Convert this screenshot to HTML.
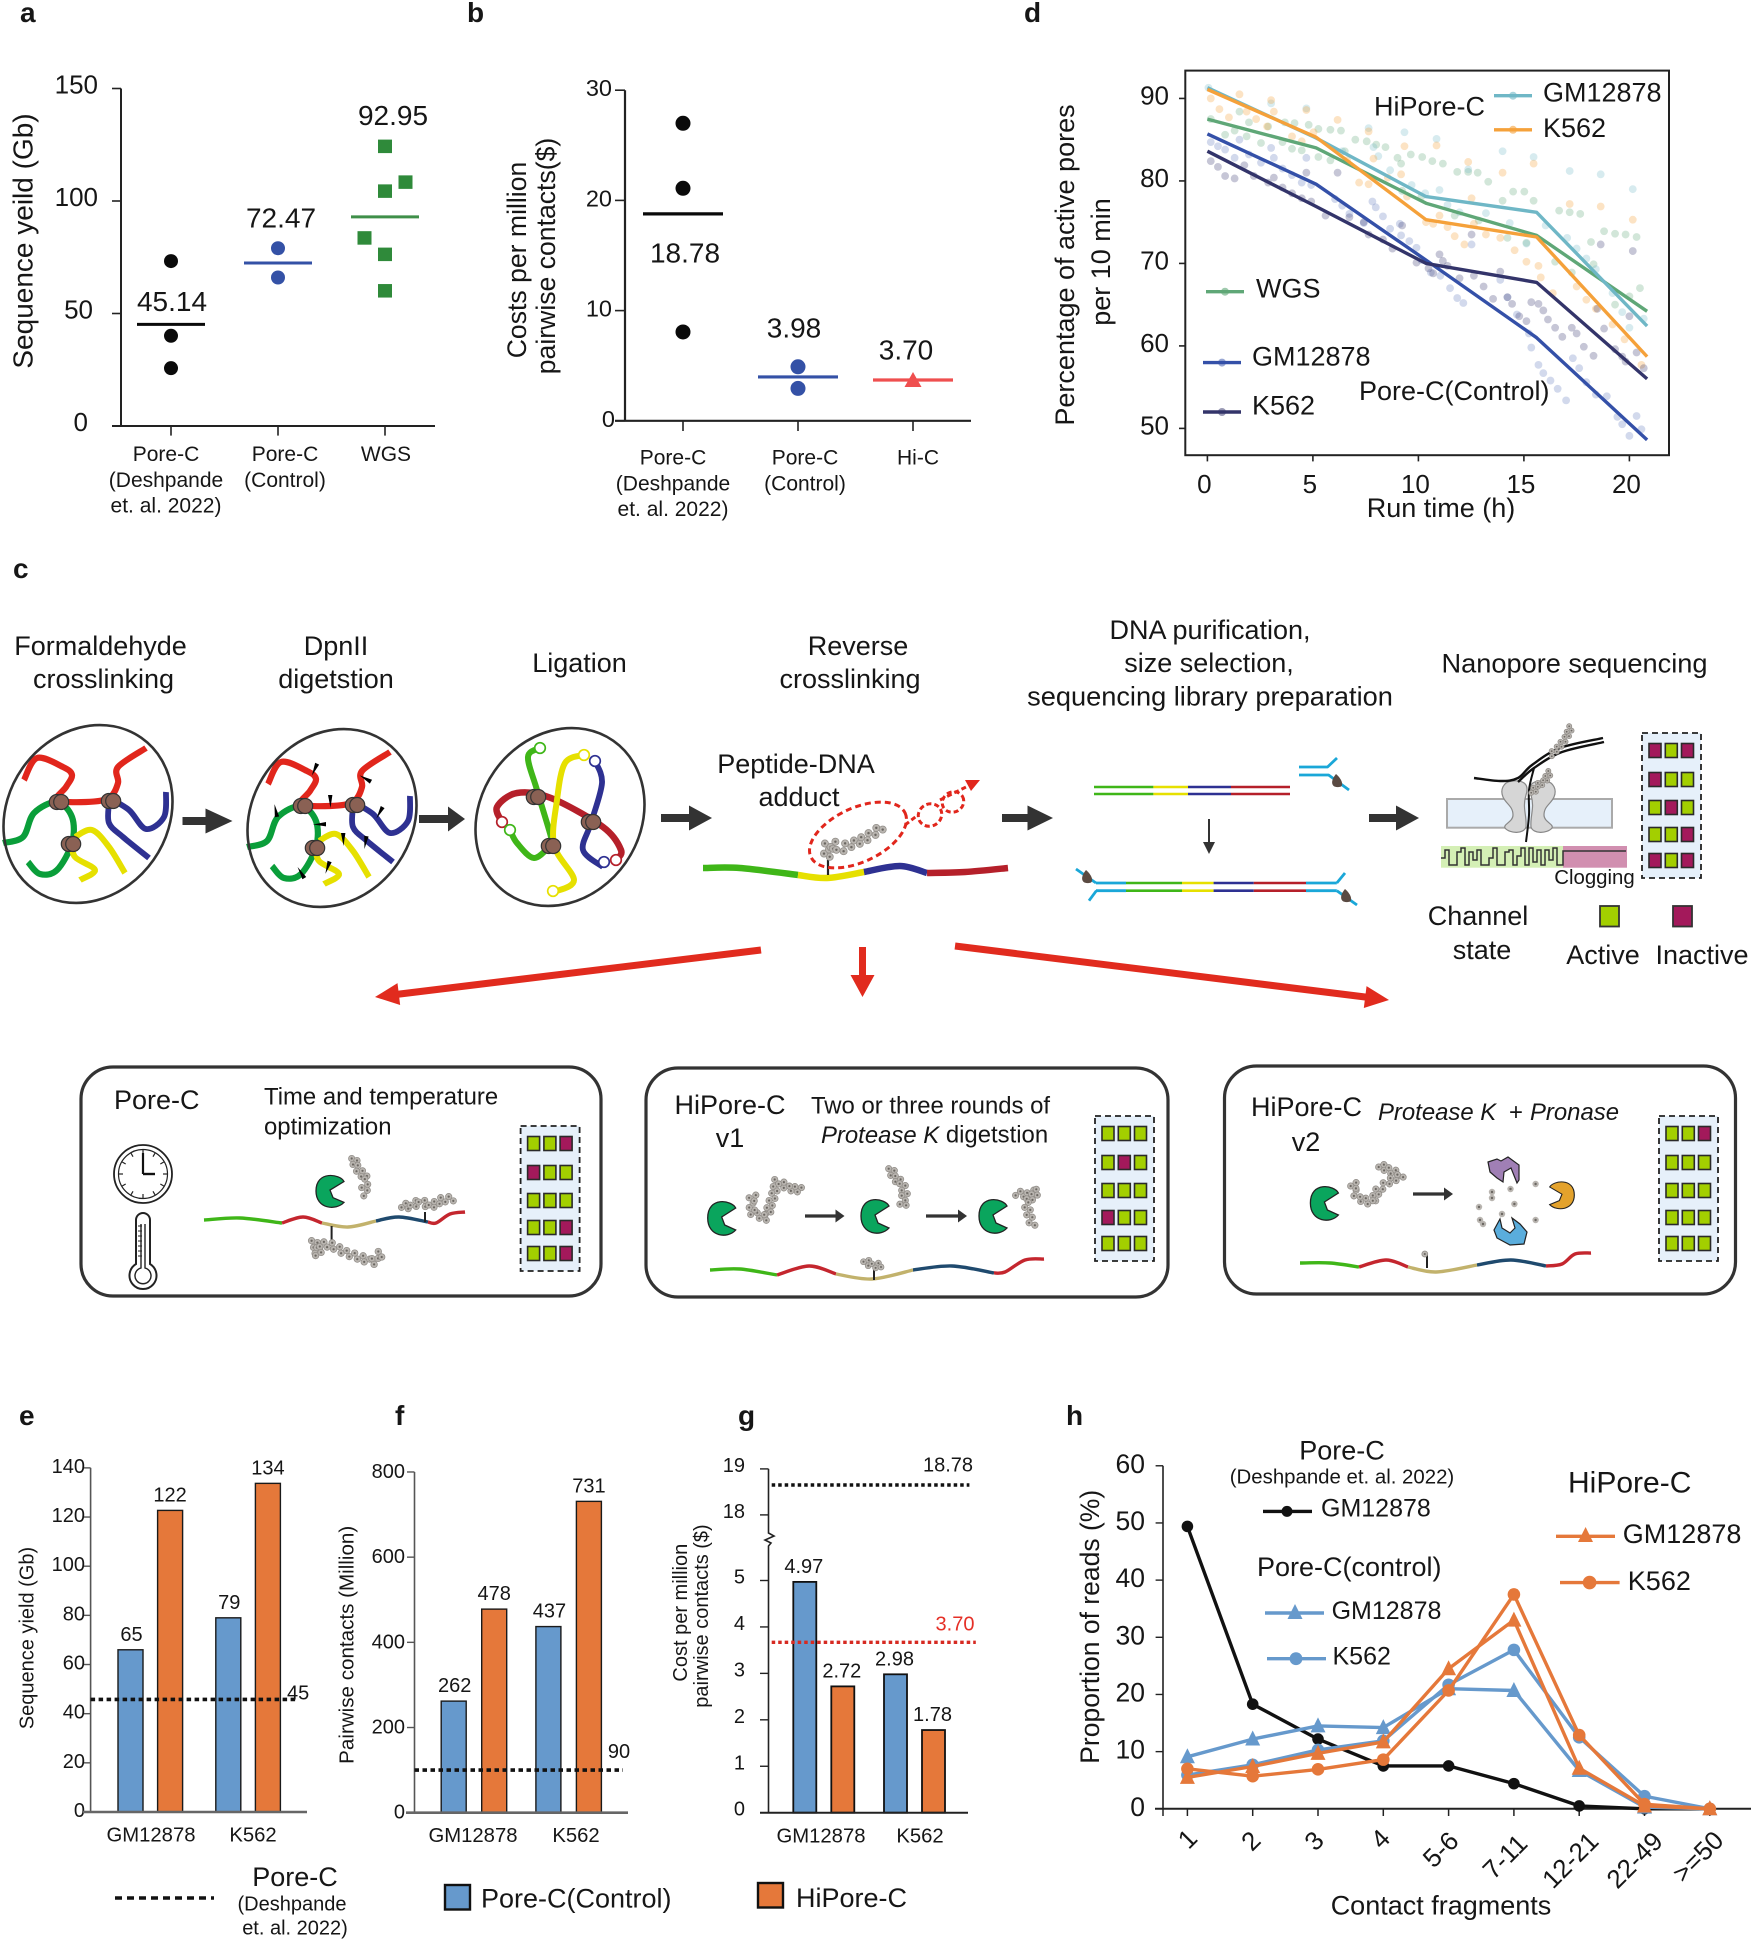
<!DOCTYPE html>
<html lang="en">
<head>
<meta charset="utf-8">
<title>HiPore-C figure</title>
<style>
html,body{margin:0;padding:0;background:#fff;}
#figure{display:block;width:1751px;height:1940px;background:#fff;}
text{font-family:"Liberation Sans",Arial,sans-serif;fill:#161616;dominant-baseline:central;}
.m{text-anchor:middle;}
.e{text-anchor:end;}
.letter{font-weight:700;font-size:28px;dominant-baseline:alphabetic;}
.t27{font-size:27px;}
.t26{font-size:26.6px;}
.t24{font-size:23.9px;}
.t21{font-size:21px;}
.t20{font-size:20px;}
.t19{font-size:20px;}
</style>
</head>
<body>
<svg id="figure" xmlns="http://www.w3.org/2000/svg" width="1751" height="1940" viewBox="0 0 1751 1940">
  <rect width="1751" height="1940" fill="#fff"/>

  <g>
    <text class="letter" x="20" y="22">a</text>
    <text class="letter" x="467" y="22">b</text>
    <text class="letter" x="1024" y="22">d</text>
    <text class="letter" x="13" y="578">c</text>
    <text class="letter" x="19" y="1425">e</text>
    <text class="letter" x="395" y="1425">f</text>
    <text class="letter" x="738" y="1425">g</text>
    <text class="letter" x="1066" y="1425">h</text>
  </g>

  <g id="panel-a">
    <text class="m" style="font-size:28px" transform="translate(23,241) rotate(-90)">Sequence yeild (Gb)</text>
  </g>
  <g id="panel-b">
    <text class="m t26" transform="translate(517,260) rotate(-90)">Costs per million</text>
    <text class="m t26" transform="translate(546,256) rotate(-90)">pairwise contacts($)</text>
  </g>
  <g id="panel-d">
    <text class="m t27" transform="translate(1065,265) rotate(-90)">Percentage of active pores</text>
    <text class="m t27" transform="translate(1101,262) rotate(-90)">per 10 min</text>
    <text class="m t27" x="1441" y="508">Run time (h)</text>
  </g>
  <g>
    <text class="t27" x="1374" y="106.7">HiPore-C</text>
    <line x1="1494" x2="1532" y1="95.7" y2="95.7" stroke="#6fb7c6" stroke-width="3.4"/>
    <circle cx="1513" cy="95.7" r="4" fill="#6fb7c6" opacity=".6"/>
    <text class="t27" x="1543" y="92.3">GM12878</text>
    <line x1="1494" x2="1532" y1="129.8" y2="129.8" stroke="#f5a13a" stroke-width="3.4"/>
    <circle cx="1513" cy="129.8" r="4" fill="#f5a13a" opacity=".6"/>
    <text class="t27" x="1543" y="128">K562</text>
    <line x1="1206" x2="1244" y1="291.7" y2="291.7" stroke="#5fa777" stroke-width="3.4"/>
    <circle cx="1225" cy="291.7" r="4" fill="#5fa777" opacity=".6"/>
    <text class="t27" x="1256" y="288.6">WGS</text>
    <line x1="1203" x2="1241" y1="362.6" y2="362.6" stroke="#3450a8" stroke-width="3.4"/>
    <circle cx="1222" cy="362.6" r="4" fill="#3450a8" opacity=".5"/>
    <text class="t27" x="1252" y="356.4">GM12878</text>
    <line x1="1203" x2="1241" y1="412" y2="412" stroke="#33346a" stroke-width="3.4"/>
    <circle cx="1222" cy="412" r="4" fill="#33346a" opacity=".5"/>
    <text class="t27" x="1252" y="405.6">K562</text>
    <text class="t27" x="1359" y="390.8">Pore-C(Control)</text>
  </g>

  <g id="panel-c"></g>
  <g>
    <text class="m t27" x="100.5" y="646">Formaldehyde</text>
    <text class="m t27" x="103.5" y="679">crosslinking</text>
    <text class="m t27" x="336" y="646">DpnII</text>
    <text class="m t27" x="336" y="679">digetstion</text>
    <text class="m t27" x="579.5" y="663">Ligation</text>
    <text class="m t27" x="858" y="646">Reverse</text>
    <text class="m t27" x="850" y="679">crosslinking</text>
    <text class="m t27" x="796" y="764">Peptide-DNA</text>
    <text class="m t27" x="799" y="797">adduct</text>
    <text class="m t27" x="1210" y="630">DNA purification,</text>
    <text class="m t27" x="1209" y="663">size selection,</text>
    <text class="m" style="font-size:27.2px" x="1210" y="696">sequencing library preparation</text>
    <text class="m" style="font-size:27.2px" x="1574.5" y="663">Nanopore sequencing</text>
    <text class="m" style="font-size:20.4px" x="1594.5" y="878">Clogging</text>
    <text class="m t27" x="1478" y="916">Channel</text>
    <text class="m t27" x="1482" y="950">state</text>
    <text class="m t27" x="1603" y="955">Active</text>
    <text class="m t27" x="1702" y="955">Inactive</text>
    <text class="t27" x="114" y="1100">Pore-C</text>
    <text class="t24" x="264" y="1097">Time and temperature</text>
    <text class="t24" x="264" y="1127">optimization</text>
    <text class="m t27" x="730" y="1105">HiPore-C</text>
    <text class="m t27" x="730" y="1138">v1</text>
    <text class="t24" x="811" y="1106">Two or three rounds of</text>
    <text class="t24" x="821" y="1135"><tspan font-style="italic">Protease K</tspan> digetstion</text>
    <text class="t27" x="1251" y="1107">HiPore-C</text>
    <text class="m t27" x="1306" y="1142">v2</text>
    <text class="t24" x="1378" y="1112"><tspan font-style="italic">Protease K</tspan><tspan x="1509">+</tspan><tspan x="1530" font-style="italic">Pronase</tspan></text>
  </g>

  <g id="panel-e">
    <text class="m t19" transform="translate(27.5,1638) rotate(-90)">Sequence yield (Gb)</text>
  </g>
  <g id="panel-f">
    <text class="m" style="font-size:20.6px" transform="translate(347,1644.8) rotate(-90)">Pairwise contacts (Million)</text>
  </g>
  <g id="panel-g">
    <text class="m t19" transform="translate(681,1612.7) rotate(-90)">Cost per million</text>
    <text class="m t19" transform="translate(702,1616) rotate(-90)">pairwise contacts ($)</text>
  </g>
  <g>
    <line x1="115" x2="214" y1="1898" y2="1898" stroke="#111" stroke-width="3.5" stroke-dasharray="7 5"/>
    <text class="m t27" x="295" y="1877">Pore-C</text>
    <text class="m t20" x="292" y="1904.6">(Deshpande</text>
    <text class="m t20" x="295" y="1928.4">et. al. 2022)</text>
    <rect x="445" y="1885" width="25" height="24.5" fill="#6699cc" stroke="#111" stroke-width="2.4"/>
    <text class="t27" x="481" y="1898.6">Pore-C(Control)</text>
    <rect x="758" y="1883" width="25" height="24.5" fill="#e5783a" stroke="#111" stroke-width="2.4"/>
    <text class="t27" x="796" y="1898">HiPore-C</text>
  </g>

  <g id="panel-h">
    <text class="m" style="font-size:26.5px" transform="translate(1090,1626.8) rotate(-90)">Proportion of reads (%)</text>
    <text class="m t27" x="1441" y="1905.6">Contact fragments</text>
  </g>
  <g>
    <text class="m t27" x="1342" y="1450.3">Pore-C</text>
    <text class="m" style="font-size:20.4px" x="1342" y="1477.7">(Deshpande et. al. 2022)</text>
    <line x1="1263" x2="1312" y1="1511.4" y2="1511.4" stroke="#111" stroke-width="3.4"/>
    <circle cx="1287" cy="1511.4" r="5.5" fill="#111"/>
    <text x="1321" y="1508.6" style="font-size:25px">GM12878</text>
    <text class="t27" x="1257" y="1567">Pore-C(control)</text>
    <line x1="1265" x2="1324" y1="1613" y2="1613" stroke="#6699cc" stroke-width="3.4"/>
    <polygon points="1295,1604 1287.5,1619 1302.5,1619" fill="#6699cc"/>
    <text x="1331.6" y="1611" style="font-size:25px">GM12878</text>
    <line x1="1267" x2="1326" y1="1658.7" y2="1658.7" stroke="#6699cc" stroke-width="3.4"/>
    <circle cx="1296" cy="1658.7" r="6.4" fill="#6699cc"/>
    <text x="1332.5" y="1656.6" style="font-size:25px">K562</text>
    <text x="1568" y="1483" style="font-size:30px">HiPore-C</text>
    <line x1="1556" x2="1615" y1="1536.3" y2="1536.3" stroke="#e5783a" stroke-width="3.4"/>
    <polygon points="1585.6,1527 1578,1542 1593,1542" fill="#e5783a"/>
    <text class="t27" x="1622.8" y="1533.8">GM12878</text>
    <line x1="1560" x2="1619.6" y1="1582.6" y2="1582.6" stroke="#e5783a" stroke-width="3.4"/>
    <circle cx="1589.6" cy="1582.6" r="6.8" fill="#e5783a"/>
    <text class="t27" x="1627.8" y="1581">K562</text>
  </g>
</svg>

<script>
/* ---------- chart data ---------- */
const aTicks = [0, 50, 100, 150];
const aCategoryLines = [['Pore-C', '(Deshpande', 'et. al. 2022)'], ['Pore-C', '(Control)'], ['WGS']];
const aDeshpande = [73.3, 40.1, 25.7];
const aControl = [79, 66];
const aWgs = [124.4, 108.5, 104.5, 83.7, 76.4, 60.2];
const aWgsLane = [0, 1, 0, -1, 0, 0];
const aMeans = [45.14, 72.47, 92.95];
const aMeanLabels = ['45.14', '72.47', '92.95'];

const bTicks = [0, 10, 20, 30];
const bCategoryLines = [['Pore-C', '(Deshpande', 'et. al. 2022)'], ['Pore-C', '(Control)'], ['Hi-C']];
const bDeshpande = [27.0, 21.1, 8.06];
const bControl = [4.9, 2.94];
const bHiC = [3.7];
const bMeans = [18.78, 3.98, 3.70];
const bMeanLabels = ['18.78', '3.98', '3.70'];

const dXTicks = [0, 5, 10, 15, 20];
const dYTicks = [50, 60, 70, 80, 90];
const dNodeTimes = [0, 5.15, 10.36, 15.6, 20.84];
const dHiGm = [91.3, 85.2, 78.1, 76.2, 62.4];
const dHiK562 = [91.1, 85.3, 75.3, 73.2, 58.7];
const dWgs = [87.5, 84, 77.3, 73.4, 64.2];
const dCtrlGm = [85.7, 79.6, 70.4, 61, 48.6];
const dCtrlK562 = [83.6, 76.9, 70, 67.7, 56];
const dHiK562Points = [[.16,90],[.57,88.7],[1.02,87.7],[1.52,90.5],[1.86,88.4],[2.31,87.5],[2.83,86.6],[3.02,89.8],[3.15,88.4],[4.01,85.4],[4.47,84.8],[4.69,88.6],[5.03,85.9],[6.17,87.4],[6.62,82.5],[7.19,79.8],[7.64,79.6],[7.64,86],[7.87,82.7],[8.55,80.4],[9.18,80.8],[9.34,84.2],[9.46,78.1],[10.36,75],[10.7,74.8],[10.86,84.3],[11,75.8],[11.38,74.4],[11.72,73.3],[12.18,72.3],[12.36,82.3],[12.52,77.9],[12.63,74.8],[13.2,73.5],[13.88,73.1],[13.99,81],[14.56,71.6],[15.12,70.2],[15.46,82.1],[15.69,69.7],[15.8,68.3],[16.37,66.4],[17.17,77.2],[17.5,67.2],[17.96,65.6],[18.41,64.5],[18.64,76.9],[19.2,62.6],[19.77,60.8],[20.16,75.3],[20.57,57.7]];
const dHiGmPoints = [[.05,91.3],[3.02,89.4],[4.69,88.8],[6.39,83.6],[7.64,86.4],[7.87,84.1],[8.1,83],[8.66,81.3],[9.34,85.9],[9.68,79.5],[10.32,78.5],[10.86,85.1],[11,78.9],[11.38,77.1],[11.95,76.2],[12.36,81.4],[13.2,76.1],[13.99,83.6],[14.33,74.9],[15.12,72.4],[15.46,82.9],[16.03,74.6],[17.17,81.2],[17.05,73.1],[17.5,71.8],[17.96,70.6],[18.64,80.8],[18.41,69.3],[19.2,66.4],[19.66,64.1],[20.16,79],[20,62.2],[20.68,63.3]];
const dWgsPoints = [[.16,87.5],[.84,85.6],[1.29,86.1],[1.52,88.4],[1.86,85.4],[1.97,87.1],[2.54,84.6],[2.88,86.6],[3.56,84.7],[3.67,87.1],[4.13,87],[4.01,83.9],[4.47,83.7],[4.8,86.8],[5.26,86.3],[5.26,82.9],[5.83,86.2],[5.83,82.5],[6.33,86.1],[6.51,83.6],[7.01,85],[7.55,84.8],[8,84.4],[8.44,84.1],[9.01,82.8],[9.18,82.1],[9.64,83.2],[10.18,82.9],[10.66,82.4],[11.16,82.1],[11.84,81.1],[12.36,81.1],[12.81,81],[13.31,79.9],[13.99,77.6],[14.49,78.7],[15.02,78.7],[15.46,77.6],[16.67,76.4],[17.17,76.2],[17.67,76],[18.18,72.6],[18.8,73.9],[19.32,73.6],[19.82,73.5],[20.34,73.2],[20.5,67],[20,66],[19.32,65],[18.3,69.9],[17.27,68.9],[16.48,70.2],[15.12,72.5],[14.22,73.1],[12.86,75.2],[11.72,75.8],[10.14,78.1],[9.23,78.8]];
const dCtrlGmPoints = [[.16,84.7],[.5,84.2],[.84,83.8],[1.29,82.8],[1.52,85],[1.97,83.2],[2.54,82.2],[3.02,84],[3.15,82.8],[3.56,81.5],[4.01,80.7],[4.47,79.8],[4.69,82.8],[4.92,79.5],[6.05,77.8],[6.39,77],[6.73,76],[7.41,74.9],[7.82,77.5],[7.98,76.8],[8.32,75.7],[8.66,74.2],[9.12,74.8],[9.18,73.4],[9.57,72.7],[9.91,71.9],[10.14,70.4],[10.59,68.9],[11.04,68.5],[11.5,67],[11.84,65.8],[12.13,65.2],[12.52,72.3],[13.88,68],[14.22,65.9],[14.67,63.8],[15.24,61.5],[15.35,59.8],[15.69,57.7],[15.92,56.7],[16.26,55.8],[16.6,54.8],[17,53.4],[17.32,58.5],[17.62,57.3],[17.96,55.6],[18.41,54.1],[18.93,53.9],[19.43,51.4],[19.66,50.5],[20,49.1],[20.34,51.5],[20.57,49.9]];
const dCtrlK562Points = [[.16,82.4],[.5,81.7],[.84,80.6],[1.29,80.3],[1.75,81.9],[2.2,80.6],[2.88,79.8],[3.15,80.4],[3.56,79.2],[4.01,78.5],[4.47,77.9],[4.69,81],[4.92,77.5],[5.6,75.8],[6.17,81],[6.73,75.6],[7.41,75],[7.64,73.5],[8.32,72.9],[8.77,71.8],[9.23,74.6],[9.91,70.1],[10.48,69.4],[10.7,68.8],[11,71.1],[11.16,70.3],[11.38,69.7],[11.95,68.2],[12.52,73.5],[12.63,68.5],[13.09,67.2],[13.54,65.7],[13.88,69],[14.22,65.9],[14.44,65.1],[14.78,63.6],[15.12,63],[15.35,65.3],[15.69,65.1],[15.92,64.3],[16.14,63.2],[16.48,62.2],[16.82,61.1],[17.27,62.2],[17.5,61.5],[17.84,59.9],[18.3,58.8],[18.48,64.5],[18.64,72.3],[18.8,62.1],[19.32,59.6],[19.66,58.7],[19.82,58.1],[20,63.6],[20.16,71.5],[20.34,59.2],[20.68,57.3]];

const barCategories = ['GM12878', 'K562'];
const eTicks = [0, 20, 40, 60, 80, 100, 120, 140];
const eControl = [66, 79];
const eHiPore = [122.7, 133.7];
const eControlLabels = ['65', '79'];
const eHiPoreLabels = ['122', '134'];
const eReference = [45.8];
const eReferenceLabels = ['45'];

const fTicks = [0, 200, 400, 600, 800];
const fControl = [262, 437];
const fHiPore = [478, 731];
const fControlLabels = ['262', '437'];
const fHiPoreLabels = ['478', '731'];
const fReference = [100];
const fReferenceLabels = ['90'];

const gLowerTicks = [0, 1, 2, 3, 4, 5];
const gUpperTicks = [18, 19];
const gControl = [4.97, 2.98];
const gHiPore = [2.72, 1.78];
const gControlLabels = ['4.97', '2.98'];
const gHiPoreLabels = ['2.72', '1.78'];
const gReference = [18.65, 3.67];
const gReferenceLabels = ['18.78', '3.70'];

const hCategories = ['1', '2', '3', '4', '5-6', '7-11', '12-21', '22-49', '>=50'];
const hTicks = [0, 10, 20, 30, 40, 50, 60];
const hDeshpandeGm = [49.4, 18.3, 12.2, 7.5, 7.5, 4.4, 0.5, 0, 0];
const hControlGm = [9.1, 12.2, 14.5, 14.2, 21.0, 20.7, 6.7, 0.3, 0];
const hControlK562 = [5.9, 7.7, 10.3, 11.9, 21.7, 27.8, 12.5, 2.2, 0];
const hHiPoreGm = [5.5, 7.4, 9.7, 11.7, 24.5, 33, 7.1, 0.5, 0];
const hHiPoreK562 = [7, 5.7, 6.9, 8.6, 20.7, 37.5, 12.9, 0.8, 0];

/* ---------- helpers ---------- */
const NS = 'http://www.w3.org/2000/svg';
function el(tag, name, attrs, parent) {
  const e = document.createElementNS(NS, tag);
  
  
  for (const k in attrs) e.setAttribute(k, attrs[k]);
  parent.appendChild(e);
  return e;
}
function txt(parent, name, x, y, s, size, anchor, fill) {
  const t = el('text', name, { x: x, y: y, 'font-size': size, 'text-anchor': anchor || 'middle' }, parent);
  if (fill) t.style.fill = fill;
  t.textContent = s;
  return t;
}
function line(parent, name, x1, y1, x2, y2, stroke, w, dash) {
  const a = { x1: x1, y1: y1, x2: x2, y2: y2, stroke: stroke, 'stroke-width': w };
  if (dash) a['stroke-dasharray'] = dash;
  return el('line', name, a, parent);
}
function circle(parent, name, x, y, r, fill, op) {
  const a = { cx: x, cy: y, r: r, fill: fill };
  if (op !== undefined) a.opacity = op;
  return el('circle', name, a, parent);
}
function tri(parent, name, x, y, hw, up, down, fill) {
  return el('polygon', name, { points: x + ',' + (y - up) + ' ' + (x - hw) + ',' + (y + down) + ' ' + (x + hw) + ',' + (y + down), fill: fill }, parent);
}
function smooth(p) {
  let d = 'M' + p[0][0] + ' ' + p[0][1];
  for (let i = 0; i < p.length - 1; i++) {
    const a = p[Math.max(i - 1, 0)], b = p[i], c = p[i + 1], e = p[Math.min(i + 2, p.length - 1)];
    d += ' C' + (b[0] + (c[0] - a[0]) / 6).toFixed(1) + ' ' + (b[1] + (c[1] - a[1]) / 6).toFixed(1) + ' ' +
      (c[0] - (e[0] - b[0]) / 6).toFixed(1) + ' ' + (c[1] - (e[1] - b[1]) / 6).toFixed(1) + ' ' + c[0] + ' ' + c[1];
  }
  return d;
}
function curve(parent, name, pts, color, w, cap) {
  return el('path', name, { d: smooth(pts), fill: 'none', stroke: color, 'stroke-width': w, 'stroke-linecap': cap || 'butt', 'stroke-linejoin': 'round' }, parent);
}
function polyPath(parent, name, pts, color, w) {
  return el('polyline', name, { points: pts.map(p => p[0].toFixed(1) + ',' + p[1].toFixed(1)).join(' '), fill: 'none', stroke: color, 'stroke-width': w, 'stroke-linejoin': 'round' }, parent);
}

/* ---------- panel a ---------- */
(function () {
  const g = document.getElementById('panel-a');
  const y = v => 426 - v * 2.25;
  const x = i => 171 + i * 107;
  line(g, 'y-axis', 121, y(0), 121, y(150), '#222', 2);
  line(g, 'x-axis', 112, y(0), 435, y(0), '#222', 2);
  aTicks.forEach(t => {
    line(g, 'y-tick', 112, y(t), 121, y(t), '#222', 1.6);
    txt(g, 'y-tick-label', t >= 100 ? 98 : t === 50 ? 93 : 88, y(t) - 4, String(t), 26, 'end');
  });
  const nudges = [-5, 7, 1];
  aCategoryLines.forEach((lines, i) => {
    line(g, 'x-tick', x(i), y(0), x(i), 435.6, '#222', 1.6);
    lines.forEach((s, j) => txt(g, 'category-label', x(i) + nudges[i], 454.5 + j * 25.8, s, 21));
  });
  aDeshpande.forEach(v => circle(g, 'point-pore-c-deshpande', x(0), y(v), 7, '#0a0a0a'));
  aControl.forEach(v => circle(g, 'point-pore-c-control', x(1), y(v), 7, '#3451a6'));
  aWgs.forEach((v, i) => el('rect', 'point-wgs', { x: x(2) + aWgsLane[i] * 20.5 - 7, y: y(v) - 6.5, width: 14, height: 13.5, fill: '#2f8a3a' }, g));
  const colors = ['#0a0a0a', '#3451a6', '#3f8f49'];
  const labelDx = [1, 3, 8], labelDy = [-23, -45, -101.5];
  aMeans.forEach((v, i) => {
    line(g, 'mean-line', x(i) - 34, y(v), x(i) + 34, y(v), colors[i], 3);
    txt(g, 'mean-label', x(i) + labelDx[i], y(v) + labelDy[i], aMeanLabels[i], 28);
  });
})();

/* ---------- panel b ---------- */
(function () {
  const g = document.getElementById('panel-b');
  const y = v => 420.8 - v * 11.02;
  const x = i => 683 + i * 115;
  line(g, 'y-axis', 625, y(0), 625, y(30), '#222', 2.2);
  line(g, 'x-axis', 615, y(0), 971, y(0), '#222', 2.2);
  bTicks.forEach(t => {
    line(g, 'y-tick', 615, y(t), 625, y(t), '#222', 1.6);
    txt(g, 'y-tick-label', t === 0 ? 615 : 612, y(t) - 2, String(t), 23.5, 'end');
  });
  const nudges = [-10, 7, 5];
  bCategoryLines.forEach((lines, i) => {
    line(g, 'x-tick', x(i), y(0), x(i), 431, '#222', 1.6);
    lines.forEach((s, j) => txt(g, 'category-label', x(i) + nudges[i], 458 + j * 25.8, s, 21));
  });
  bDeshpande.forEach(v => circle(g, 'point-pore-c-deshpande', x(0), y(v), 7.5, '#0a0a0a'));
  bControl.forEach(v => circle(g, 'point-pore-c-control', x(1), y(v), 7.5, '#3451a6'));
  bHiC.forEach(v => tri(g, 'point-hi-c', x(2), y(v), 8.5, 8, 7, '#ef4f4f'));
  const colors = ['#0a0a0a', '#3451a6', '#ef4f4f'];
  const labelX = [685, 794, 906], labelDy = [39.3, -49, -30];
  bMeans.forEach((v, i) => {
    line(g, 'mean-line', x(i) - 40, y(v), x(i) + 40, y(v), colors[i], 3.2);
    txt(g, 'mean-label', labelX[i], y(v) + labelDy[i], bMeanLabels[i], 28);
  });
})();

/* ---------- panel d ---------- */
(function () {
  const g = document.getElementById('panel-d');
  const x = t => 1207.4 + t * 21.1;
  const y = v => 428.4 - (v - 50) * 8.249;
  el('rect', 'plot-frame', { x: 1185.3, y: 70.6, width: 483.7, height: 384.6, fill: 'none', stroke: '#222', 'stroke-width': 2 }, g);
  dYTicks.forEach(t => {
    line(g, 'y-tick', 1179, y(t), 1185.3, y(t), '#222', 1.6);
    txt(g, 'y-tick-label', 1169, y(t) - 3, String(t), 26, 'end');
  });
  dXTicks.forEach(t => {
    line(g, 'x-tick', x(t), 455.2, x(t), 461.4, '#222', 1.6);
    txt(g, 'x-tick-label', x(t) - 3, 483.8, String(t), 26);
  });
  const scatter = [[dWgsPoints, '#5fa777', .28], [dHiGmPoints, '#6fb7c6', .28], [dHiK562Points, '#f5a13a', .3], [dCtrlGmPoints, '#3450a8', .22], [dCtrlK562Points, '#33346a', .28]];
  scatter.forEach(s => s[0].forEach(p => circle(g, 'raw-point', x(p[0]), y(p[1]), 3.9, s[1], s[2])));
  const series = [[dWgs, '#5fa777', 'line-wgs'], [dHiGm, '#6fb7c6', 'line-hipore-gm12878'], [dHiK562, '#f5a13a', 'line-hipore-k562'], [dCtrlGm, '#3450a8', 'line-control-gm12878'], [dCtrlK562, '#33346a', 'line-control-k562']];
  series.forEach(s => polyPath(g, s[2], s[0].map((v, i) => [x(dNodeTimes[i]), y(v)]), s[1], 3.4));
})();

/* ---------- bar chart shared ---------- */
function barSeries(g, name, vals, labels, x, y, base, color, size) {
  vals.forEach((v, i) => {
    el('rect', name, { x: x(i) - 12.5, y: y(v), width: 25, height: base - y(v), fill: color, stroke: '#1a1a1a', 'stroke-width': 1.4 }, g);
    txt(g, name + '-label', x(i) + (name.indexOf('control') > -1 ? 1 : 0), y(v) - 15, labels[i], size);
  });
}

/* ---------- panel e ---------- */
(function () {
  const g = document.getElementById('panel-e');
  const y = v => 1812 - v * 2.458;
  const x = (grp, s) => 130.5 + grp * 97.8 + s * 39.6;
  eTicks.forEach(t => {
    line(g, 'y-tick', 84, y(t), 90.6, y(t), '#555', 1.4);
    txt(g, 'y-tick-label', 85, y(t) - 1, String(t), 20, 'end');
  });
  line(g, 'y-axis', 90.6, y(0), 90.6, y(140), '#555', 1.6);
  barSeries(g, 'bar-pore-c-control', eControl, eControlLabels, i => x(i, 0), y, y(0), '#6699cc', 20);
  barSeries(g, 'bar-hipore-c', eHiPore, eHiPoreLabels, i => x(i, 1), y, y(0), '#e5783a', 20);
  line(g, 'x-axis', 83, y(0), 307, y(0), '#666', 2.6);
  line(g, 'reference-line', 90.6, y(eReference[0]), 296.6, y(eReference[0]), '#111', 3.6, '4.5 3.5');
  txt(g, 'reference-label', 287, y(eReference[0]) - 6, eReferenceLabels[0], 20, 'start');
  barCategories.forEach((c, i) => txt(g, 'category-label', [151, 253][i], 1835.5, c, 20.3));
})();

/* ---------- panel f ---------- */
(function () {
  const g = document.getElementById('panel-f');
  const y = v => 1812.7 - v * 0.4259;
  const x = (grp, s) => 453.7 + grp * 94.7 + s * 40.5;
  fTicks.forEach(t => {
    line(g, 'y-tick', 407, y(t), 414.5, y(t), '#555', 1.4);
    txt(g, 'y-tick-label', 405, y(t), String(t), 20, 'end');
  });
  line(g, 'y-axis', 414.5, y(0), 414.5, y(800), '#555', 1.6);
  barSeries(g, 'bar-pore-c-control', fControl, fControlLabels, i => x(i, 0), y, y(0), '#6699cc', 20);
  barSeries(g, 'bar-hipore-c', fHiPore, fHiPoreLabels, i => x(i, 1), y, y(0), '#e5783a', 20);
  line(g, 'x-axis', 406, y(0), 628, y(0), '#666', 2.6);
  line(g, 'reference-line', 414.5, y(fReference[0]), 623, y(fReference[0]), '#111', 3.6, '4.5 3.5');
  txt(g, 'reference-label', 619, y(fReference[0]) - 18, fReferenceLabels[0], 20);
  barCategories.forEach((c, i) => txt(g, 'category-label', [473, 576][i], 1836.2, c, 20.3));
})();

/* ---------- panel g ---------- */
(function () {
  const g = document.getElementById('panel-g');
  const y = v => v > 10 ? 1514.9 - (v - 18) * 46 : 1812.7 - v * 46.44;
  const x = (grp, s) => 804.8 + grp * 90.7 + s * 38;
  gLowerTicks.concat(gUpperTicks).forEach(t => {
    line(g, 'y-tick', 760, y(t), 768.5, y(t), '#222', 1.4);
    txt(g, 'y-tick-label', 745, y(t) - 3, String(t), 20, 'end');
  });
  el('path', 'y-axis-with-break', { d: 'M768.5 1468.9 V1533 L774 1536 L765 1540 L771 1543 L768.5 1546 V1812.7', fill: 'none', stroke: '#222', 'stroke-width': 1.6 }, g);
  [[gControl, gControlLabels, 0, '#6699cc', 'bar-pore-c-control'], [gHiPore, gHiPoreLabels, 1, '#e5783a', 'bar-hipore-c']].forEach(s => {
    s[0].forEach((v, i) => {
      el('rect', s[4], { x: x(i, s[2]) - 11.5, y: y(v), width: 23, height: y(0) - y(v), fill: s[3], stroke: '#111', 'stroke-width': 1.8 }, g);
      txt(g, s[4] + '-label', x(i, s[2]) - 1, y(v) - 15, s[1][i], 20);
    });
  });
  line(g, 'x-axis', 760, y(0), 968, y(0), '#222', 2);
  line(g, 'reference-line-pore-c', 771.7, y(gReference[0]), 969.4, y(gReference[0]), '#111', 3.4, '3.5 3');
  txt(g, 'reference-label-pore-c', 948, y(gReference[0]) - 19.6, gReferenceLabels[0], 20);
  line(g, 'reference-line-hi-c', 771.7, y(gReference[1]), 975.8, y(gReference[1]), '#d62a22', 3.4, '3.5 3');
  txt(g, 'reference-label-hi-c', 955, y(gReference[1]) - 18, gReferenceLabels[1], 20, 'middle', '#e53027');
  barCategories.forEach((c, i) => txt(g, 'category-label', [821, 920][i], 1836.5, c, 20.3));
})();

/* ---------- panel h ---------- */
(function () {
  const g = document.getElementById('panel-h');
  const y = v => 1808.8 - v * 5.717;
  const x = i => 1187.4 + i * 65.3;
  line(g, 'y-axis', 1163, y(0), 1163, y(60), '#222', 1.6);
  line(g, 'x-axis', 1155, y(0), 1751, y(0), '#222', 2);
  line(g, 'x-tick-origin', 1163, y(0), 1163, 1816, '#222', 1.5);
  hTicks.forEach(t => {
    line(g, 'y-tick', 1155.6, y(t), 1163, y(t), '#222', 1.4);
    txt(g, 'y-tick-label', 1145, y(t) - 2, String(t), 26.5, 'end');
  });
  const labelDx = [0, -2, -4, -3, -8, -9, -9, -10, -12];
  const labelDy = [30, 32, 32, 30, 40.7, 47.7, 51.2, 51.2, 47.7];
  hCategories.forEach((c, i) => {
    line(g, 'x-tick', x(i), y(0), x(i), 1816, '#222', 1.5);
    const t = txt(g, 'x-tick-label', 0, 0, c, 26);
    t.setAttribute('transform', 'translate(' + (x(i) + labelDx[i]) + ',' + (y(0) + labelDy[i]) + ') rotate(-45)');
  });
  polyPath(g, 'line-deshpande-gm12878', hDeshpandeGm.map((v, i) => [x(i), y(v)]), '#111', 3.4);
  hDeshpandeGm.forEach((v, i) => circle(g, 'marker-deshpande-gm12878', x(i), y(v), 5.8, '#111'));
  polyPath(g, 'line-control-gm12878', hControlGm.map((v, i) => [x(i), y(v)]), '#6699cc', 3.4);
  hControlGm.forEach((v, i) => tri(g, 'marker-control-gm12878', x(i), y(v), 7.5, 8.5, 6.5, '#6699cc'));
  polyPath(g, 'line-control-k562', hControlK562.map((v, i) => [x(i), y(v)]), '#6699cc', 3.4);
  hControlK562.forEach((v, i) => circle(g, 'marker-control-k562', x(i), y(v), 6.3, '#6699cc'));
  polyPath(g, 'line-hipore-gm12878', hHiPoreGm.map((v, i) => [x(i), y(v)]), '#e5783a', 3.4);
  hHiPoreGm.forEach((v, i) => tri(g, 'marker-hipore-gm12878', x(i), y(v), 7.5, 8.5, 6.5, '#e5783a'));
  polyPath(g, 'line-hipore-k562', hHiPoreK562.map((v, i) => [x(i), y(v)]), '#e5783a', 3.4);
  hHiPoreK562.forEach((v, i) => circle(g, 'marker-hipore-k562', x(i), y(v), 6.3, '#e5783a'));
})();

/* ---------- panel c schematic ---------- */
(function () {
  const root = document.getElementById('panel-c');
  const RED = '#e1261c', GREEN = '#0a9e3a', BLUE = '#2e3192', YEL = '#e6e000', LIME = '#3fb618', DRED = '#b5202a', CYAN = '#1aa7d8';
  const TAN = '#c2b26c', NAVY = '#1f4a6e', SRED = '#c4262e';
  const ACT = '#a3cf00', INA = '#a3195b';

  function arrow(parent, name, x1, y1, x2, y2, color, w, hl, hh) {
    const a = Math.atan2(y2 - y1, x2 - x1), c = Math.cos(a), s = Math.sin(a);
    const bx = x2 - c * hl, by = y2 - s * hl;
    line(parent, name + '-shaft', x1, y1, bx + c, by + s, color, w);
    el('polygon', name + '-head', { points: x2 + ',' + y2 + ' ' + (bx - s * hh) + ',' + (by + c * hh) + ' ' + (bx + s * hh) + ',' + (by - c * hh), fill: color }, parent);
  }
  function node(parent, x, y) {
    const n = el('g', 'crosslink-node', {}, parent);
    [-2.2, 2.2].forEach(d => el('circle', 'crosslink-bead', { cx: x + d, cy: y, r: 7.5, fill: '#8a6154', stroke: '#333', 'stroke-width': 1.2 }, n));
  }
  function beads(parent, name, pts, r) {
    const g = el('g', name, {}, parent);
    r = r || 3.6;
    let flip = 1;
    for (let i = 0; i < pts.length - 1; i++) {
      const a = pts[i], b = pts[i + 1], L = Math.hypot(b[0] - a[0], b[1] - a[1]);
      const n = Math.max(1, Math.round(L / (r * 1.15)));
      for (let k = 0; k < n; k++) {
        const f = k / n, nx = -(b[1] - a[1]) / L, ny = (b[0] - a[0]) / L;
        const px = a[0] + (b[0] - a[0]) * f + nx * flip * r * .75, py = a[1] + (b[1] - a[1]) * f + ny * flip * r * .75;
        el('circle', 'peptide-bead', { cx: px.toFixed(1), cy: py.toFixed(1), r: r, fill: '#b9b5b0', stroke: '#8f8b86', 'stroke-width': .7 }, g);
        el('circle', 'peptide-bead-core', { cx: px.toFixed(1), cy: py.toFixed(1), r: r * .34, fill: '#6b6762' }, g);
        flip = -flip;
      }
    }
  }
  function grid(name, x, y, pattern) {
    const g = el('g', name, {}, root);
    el('rect', 'channel-panel', { x: x, y: y, width: 59, height: 145, fill: '#e6f0fa', stroke: '#222', 'stroke-width': 1.8, 'stroke-dasharray': '6 4' }, g);
    const cols = [13, 29.3, 45.5], rows = [17.5, 46.5, 74.5, 101.5, 127.5];
    pattern.forEach((r, ri) => r.split('').forEach((c, ci) => {
      el('rect', c === 'G' ? 'channel-active' : 'channel-inactive', { x: x + cols[ci] - 6, y: y + rows[ri] - 7, width: 12, height: 14, fill: c === 'G' ? ACT : INA, stroke: '#2a2a2a', 'stroke-width': 1.6 }, g);
    }));
  }
  function pacman(parent, name, x, y, fill, sx, sy) {
    el('path', name, { d: 'M14 -10 C10 -18 -14 -22 -14 0 C-14 19 6 21 14 12 L3 7 L0 -1 Z', fill: fill, stroke: '#222', 'stroke-width': 1.3, transform: 'translate(' + x + ',' + y + ') scale(' + (sx || 1) + ',' + (sy || 1) + ')' }, parent);
  }
  function box(name, x1, y1, x2, y2) {
    el('rect', name, { x: x1, y: y1, width: x2 - x1, height: y2 - y1, rx: 32, ry: 32, fill: 'none', stroke: '#333', 'stroke-width': 3.2 }, root);
  }

  /* nuclei */
  function cell(name, cx, cy, dx, dy) {
    const g = el('g', name, { transform: 'translate(' + dx + ',' + dy + ')' }, root);
    curve(g, 'strand-green', [[3, 843], [23, 837], [34, 813], [57, 802], [72, 817], [72, 843], [57, 870], [40, 874], [28, 862]], GREEN, 6.2);
    curve(g, 'strand-red', [[24, 780], [37, 758], [63, 767], [72, 775], [66, 787], [57, 800], [86, 802], [109, 798], [118, 783], [118, 767], [146, 748]], RED, 6.2);
    curve(g, 'strand-blue', [[109, 798], [129, 810], [146, 829], [164, 817], [166, 792]], BLUE, 5.8);
    curve(g, 'strand-blue-2', [[109, 803], [109, 823], [123, 837], [149, 858]], BLUE, 5.8);
    curve(g, 'strand-yellow', [[72, 843], [75, 857], [95, 870], [80, 880]], YEL, 6);
    curve(g, 'strand-yellow-2', [[75, 837], [92, 830], [109, 847], [125, 873]], YEL, 6);
    [[59, 802], [111, 801], [71, 844]].forEach(p => node(g, p[0], p[1]));
    el('ellipse', 'nucleus-outline', { cx: cx, cy: cy, rx: 80, ry: 93, transform: 'rotate(35 ' + cx + ' ' + cy + ')', fill: 'none', stroke: '#333', 'stroke-width': 2.6 }, g);
    return g;
  }
  cell('nucleus-crosslinked', 88, 814, 0, 0);
  const c2 = cell('nucleus-digested', 88, 814, 244, 4);
  [[314, 770, 25], [365, 778, 120], [330, 802, 0], [276, 810, 170], [319, 824, 90], [379, 813, 30], [343, 840, 0], [365, 843, 10], [301, 872, 150], [327, 868, 20]].forEach(m => {
    el('polygon', 'dpnii-cut-mark', { points: '-2,-7 2.4,-7 0.5,6', fill: '#000', transform: 'translate(' + (m[0] - 244) + ',' + (m[1] - 4) + ') rotate(' + m[2] + ')' }, c2);
  });

  const c3 = el('g', 'nucleus-ligated', {}, root);
  curve(c3, 'strand-red', [[502, 822], [497, 807], [517, 793], [551, 798], [603, 827], [621, 850], [616, 860]], DRED, 6.5);
  curve(c3, 'strand-green-top', [[540, 748], [528, 757], [537, 790], [551, 837], [551, 845]], LIME, 6);
  curve(c3, 'strand-green-lower', [[510, 830], [517, 843], [534, 858], [551, 845]], LIME, 6);
  curve(c3, 'strand-yellow', [[584, 755], [565, 763], [557, 800], [554, 845], [574, 880], [554, 892]], YEL, 6);
  curve(c3, 'strand-blue', [[595, 761], [602, 783], [591, 823], [583, 850], [603, 867]], BLUE, 5.8);
  [[536, 797], [591, 822], [551, 846]].forEach(p => node(c3, p[0], p[1]));
  [[540, 748, LIME], [584, 755, YEL], [595, 761, BLUE], [502, 822, DRED], [510, 830, LIME], [553, 891, YEL], [604, 862, BLUE], [616, 860, DRED]].forEach(o => {
    el('circle', 'ligation-junction', { cx: o[0], cy: o[1], r: 5.3, fill: '#fff', stroke: o[2], 'stroke-width': 1.7 }, c3);
  });
  el('ellipse', 'nucleus-outline', { cx: 560, cy: 817, rx: 80, ry: 93, transform: 'rotate(35 560 817)', fill: 'none', stroke: '#333', 'stroke-width': 2.6 }, c3);

  /* dark process arrows */
  [[182.5, 232.5, 821, 8, 27], [419, 465, 819, 8, 17], [661, 712, 818, 8, 23], [1002, 1053, 818, 8, 25.5], [1369, 1419, 818, 8, 23]].forEach(a => {
    arrow(root, 'process-arrow', a[0], a[2], a[1], a[2], '#333', a[3], a[4], 12.5);
  });

  /* peptide-DNA adduct */
  const ad = el('g', 'peptide-dna-adduct', {}, root);
  curve(ad, 'strand-green', [[703, 868], [740, 868], [798, 875]], LIME, 6.5);
  curve(ad, 'strand-yellow', [[798, 875], [827, 878], [864, 872]], YEL, 6.5);
  curve(ad, 'strand-blue', [[864, 872], [900, 866], [927, 873]], BLUE, 6.5);
  curve(ad, 'strand-red', [[927, 873], [965, 872], [1008, 868]], DRED, 6.5);
  line(ad, 'adduct-stem', 828, 860, 828, 875, '#222', 2.2);
  beads(ad, 'adduct-peptide', [[827, 857], [826, 846], [833, 843], [838, 852], [846, 846], [855, 843], [866, 838], [878, 830], [884, 825]], 3.6);
  el('ellipse', 'adduct-highlight', { cx: 858, cy: 835, rx: 52, ry: 27, transform: 'rotate(-25 858 835)', fill: 'none', stroke: '#e1261c', 'stroke-width': 3, 'stroke-dasharray': '6 4' }, ad);
  el('path', 'removed-peptide-arrow', { d: 'M905 825 L918 815', fill: 'none', stroke: '#e1261c', 'stroke-width': 3, 'stroke-dasharray': '5 3' }, ad);
  el('ellipse', 'removed-loop-1', { cx: 930, cy: 815, rx: 12, ry: 11, transform: 'rotate(-30 930 815)', fill: 'none', stroke: '#e1261c', 'stroke-width': 3, 'stroke-dasharray': '5 3' }, ad);
  el('ellipse', 'removed-loop-2', { cx: 953, cy: 802, rx: 11, ry: 10, transform: 'rotate(-30 953 802)', fill: 'none', stroke: '#e1261c', 'stroke-width': 3, 'stroke-dasharray': '5 3' }, ad);
  el('path', 'removed-peptide-tail', { d: 'M940 800 L968 786', fill: 'none', stroke: '#e1261c', 'stroke-width': 3, 'stroke-dasharray': '5 3' }, ad);
  el('polygon', 'removed-peptide-head', { points: '980,780 965,780 971,791', fill: '#e1261c' }, ad);

  /* library prep */
  const lib = el('g', 'library-preparation', {}, root);
  [787, 794].forEach(y => {
    line(lib, 'dna-green', 1094, y, 1153.4, y, LIME, 2.6);
    line(lib, 'dna-yellow', 1153.4, y, 1188, y, YEL, 2.6);
    line(lib, 'dna-blue', 1188, y, 1231, y, BLUE, 2.6);
    line(lib, 'dna-red', 1231, y, 1290, y, DRED, 2.6);
  });
  [883, 890.7].forEach(y => {
    line(lib, 'adapter-left', 1096, y, 1126, y, CYAN, 2.8);
    line(lib, 'dna-green', 1126, y, 1182, y, LIME, 2.6);
    line(lib, 'dna-yellow', 1182, y, 1213.6, y, YEL, 2.6);
    line(lib, 'dna-blue', 1213.6, y, 1253.8, y, BLUE, 2.6);
    line(lib, 'dna-red', 1253.8, y, 1306, y, DRED, 2.6);
    line(lib, 'adapter-right', 1306, y, 1336.8, y, CYAN, 2.8);
  });
  polyPath(lib, 'adapter-top', [[1299, 767], [1327.5, 767], [1337, 758]], CYAN, 2.8);
  polyPath(lib, 'adapter-bottom', [[1299, 775], [1328.6, 775], [1349, 790]], CYAN, 2.8);
  polyPath(lib, 'adapter-left-top', [[1096, 883], [1076, 869]], CYAN, 2.8);
  polyPath(lib, 'adapter-left-bottom', [[1096.4, 890.7], [1089, 900.7]], CYAN, 2.8);
  polyPath(lib, 'adapter-right-top', [[1336.8, 883], [1345, 873]], CYAN, 2.8);
  polyPath(lib, 'adapter-right-bottom', [[1336.8, 890.7], [1357, 905]], CYAN, 2.8);
  [[1337, 782], [1087, 878], [1346, 897]].forEach(p => {
    el('path', 'motor-protein', { d: 'M' + (p[0] - 1) + ' ' + (p[1] - 8) + ' C' + (p[0] + 6) + ' ' + (p[1] - 2) + ' ' + (p[0] + 7) + ' ' + (p[1] + 5) + ' ' + (p[0] + 2) + ' ' + (p[1] + 5) + ' C' + (p[0] - 6) + ' ' + (p[1] + 6) + ' ' + (p[0] - 7) + ' ' + (p[1] - 1) + ' ' + (p[0] - 1) + ' ' + (p[1] - 8) + 'Z', fill: '#5a4a42' }, lib);
  });
  arrow(lib, 'library-down-arrow', 1209, 819, 1209, 854, '#333', 2, 12, 6);

  /* nanopore */
  const np = el('g', 'nanopore-device', {}, root);
  el('rect', 'membrane', { x: 1447, y: 799, width: 165, height: 28.7, fill: '#e6f0fa', stroke: '#aaa', 'stroke-width': 2 }, np);
  const lobe = 'M1512 781 C1503 782 1500 790 1503 797 C1506 804 1513 806 1513 815 C1513 822 1503 824 1505 828 C1510 834 1524 834 1526 827 C1527 815 1522 808 1526 795 C1530 783 1522 780 1512 781Z';
  el('path', 'pore-left', { d: lobe, fill: '#d6d6d6', stroke: '#888', 'stroke-width': 1.2 }, np);
  el('path', 'pore-right', { d: lobe, fill: '#d6d6d6', stroke: '#888', 'stroke-width': 1.2, transform: 'translate(3057,0) scale(-1,1)' }, np);
  curve(np, 'dna-strand-1', [[1474, 778], [1500, 781], [1518, 778], [1532, 765], [1560, 748], [1603, 738]], '#111', 2.4);
  curve(np, 'dna-strand-2', [[1518, 782], [1534, 768], [1562, 752], [1604, 742]], '#111', 2.4);
  curve(np, 'dna-through-pore', [[1534, 768], [1529, 790], [1529, 815], [1526, 842]], '#111', 2);
  beads(np, 'peptide-on-dna', [[1571, 727], [1566, 738], [1558, 748], [1548, 757]], 2.6);
  beads(np, 'peptide-at-pore', [[1550, 772], [1544, 782], [1536, 786], [1532, 796]], 2.6);
  el('rect', 'signal-active-region', { x: 1441, y: 846, width: 122, height: 21.7, fill: '#d4efb5' }, np);
  el('rect', 'signal-clogged-region', { x: 1563, y: 846, width: 64, height: 21.7, fill: '#d18fb0' }, np);
  const levels = [858, 850, 865, 865, 852, 848, 865, 852, 860, 850, 865, 865, 858, 848, 865, 865, 852, 850, 865, 856, 848, 865, 848, 862, 850, 865, 850, 860, 848, 865];
  let d = 'M1441 858';
  levels.forEach((l, i) => { d += ' H' + (1441 + i * 4) + ' V' + l; });
  d += ' H1563 V851 H1626';
  el('path', 'current-trace', { d: d, fill: 'none', stroke: '#333', 'stroke-width': 1.5 }, np);

  grid('channel-state-grid-sequencing', 1642, 733, ['PGP', 'PGG', 'GPG', 'GGP', 'PGP']);
  el('rect', 'legend-swatch-active', { x: 1600, y: 906, width: 19, height: 20.5, fill: ACT, stroke: '#333', 'stroke-width': 1.8 }, root);
  el('rect', 'legend-swatch-inactive', { x: 1673, y: 906, width: 19, height: 20.5, fill: INA, stroke: '#333', 'stroke-width': 1.8 }, root);

  /* red arrows */
  arrow(root, 'branch-arrow-pore-c', 761, 950, 375, 997, '#e12b1e', 7, 24, 11);
  arrow(root, 'branch-arrow-hipore-v1', 862.5, 947, 862.5, 997, '#e12b1e', 7, 22, 12);
  arrow(root, 'branch-arrow-hipore-v2', 955, 946, 1389, 1000, '#e12b1e', 7, 24, 11);

  /* boxes */
  box('method-box-pore-c', 81, 1067, 601, 1296);
  box('method-box-hipore-c-v1', 646, 1068, 1168, 1297);
  box('method-box-hipore-c-v2', 1224.5, 1066, 1735.5, 1294);

  grid('channel-state-grid-pore-c', 520.6, 1126, ['GGP', 'PGG', 'GGG', 'GGP', 'GGP']);
  grid('channel-state-grid-hipore-v1', 1095, 1116, ['GGG', 'GPG', 'GGG', 'PGG', 'GGG']);
  grid('channel-state-grid-hipore-v2', 1659, 1116, ['GGP', 'GGG', 'GGG', 'GGG', 'GGG']);

  /* clock + thermometer */
  const ck = el('g', 'clock-icon', {}, root);
  el('circle', 'clock-outer', { cx: 143, cy: 1174, r: 29, fill: '#fff', stroke: '#222', 'stroke-width': 1.8 }, ck);
  el('circle', 'clock-inner', { cx: 143, cy: 1174, r: 24.5, fill: '#fff', stroke: '#222', 'stroke-width': 1.2 }, ck);
  for (let h = 0; h < 12; h++) {
    const a = h * Math.PI / 6;
    line(ck, 'clock-tick', 143 + Math.sin(a) * 20, 1174 - Math.cos(a) * 20, 143 + Math.sin(a) * 24, 1174 - Math.cos(a) * 24, '#222', 1.2);
  }
  line(ck, 'clock-minute-hand', 143, 1153, 143, 1174, '#111', 2.2);
  line(ck, 'clock-hour-hand', 143, 1174, 155, 1174, '#111', 2.4);
  const th = el('g', 'thermometer-icon', {}, root);
  el('path', 'thermometer-outline', { d: 'M136 1220 A7 7 0 0 1 150 1220 V1264 A13.5 13.5 0 1 1 136 1264 Z', fill: '#fff', stroke: '#222', 'stroke-width': 2 }, th);
  el('path', 'thermometer-inner', { d: 'M141 1224 V1268 A8 8 0 1 0 145 1268 V1224', fill: 'none', stroke: '#222', 'stroke-width': 1.4 }, th);
  for (let i = 0; i < 7; i++) line(th, 'thermometer-mark', 138, 1226 + i * 5, 142, 1226 + i * 5, '#222', 1);

  /* box 1 contents */
  const b1 = el('g', 'pore-c-digestion-illustration', {}, root);
  curve(b1, 'fragment-green', [[204, 1220], [240, 1218], [282, 1223]], LIME, 3.4);
  curve(b1, 'fragment-red', [[282, 1223], [303, 1217], [322, 1223]], SRED, 3.4);
  curve(b1, 'fragment-tan', [[322, 1223], [348, 1227], [376, 1221]], TAN, 3.4);
  curve(b1, 'fragment-navy', [[376, 1221], [399, 1217], [428, 1222]], NAVY, 3.4);
  curve(b1, 'fragment-red-2', [[428, 1222], [436, 1223], [450, 1214], [465, 1212]], SRED, 3.4);
  line(b1, 'peptide-stem', 331.6, 1226, 331.6, 1242, '#222', 2);
  line(b1, 'peptide-stem', 425, 1212, 425, 1222, '#222', 2);
  pacman(b1, 'protease-k-enzyme', 330, 1191, '#0aa55d', 1, .95);
  beads(b1, 'free-peptide', [[354, 1158], [356, 1167], [363, 1175], [367, 1180], [364, 1187], [366, 1195], [368, 1200]], 3.2);
  beads(b1, 'attached-peptide', [[402, 1205], [412, 1207], [420, 1200], [430, 1207], [441, 1200], [457, 1198]], 3.2);
  beads(b1, 'attached-peptide-lower', [[314, 1240], [317, 1250], [318, 1256], [320, 1244], [331, 1245], [346, 1253], [362, 1258], [372, 1263], [378, 1254], [386, 1255]], 3.3);

  /* box 2 contents */
  const b2 = el('g', 'hipore-v1-illustration', {}, root);
  curve(b2, 'fragment-green', [[710, 1270], [740, 1269], [777, 1275]], LIME, 3.4);
  curve(b2, 'fragment-red', [[777, 1275], [809, 1266], [836, 1274]], SRED, 3.4);
  curve(b2, 'fragment-tan', [[836, 1274], [872, 1279], [913, 1270]], TAN, 3.4);
  curve(b2, 'fragment-navy', [[913, 1270], [952, 1266], [994, 1273]], NAVY, 3.4);
  curve(b2, 'fragment-red-2', [[994, 1273], [1005, 1272], [1025, 1260], [1044, 1259]], SRED, 3.4);
  line(b2, 'peptide-stem', 874, 1268, 874, 1280, '#222', 2);
  beads(b2, 'attached-peptide', [[865, 1260], [872, 1266], [882, 1265], [886, 1267]], 3);
  pacman(b2, 'protease-k-enzyme-1', 721.7, 1218, '#0aa55d', 1, 1);
  pacman(b2, 'protease-k-enzyme-2', 875, 1216, '#0aa55d', 1, 1);
  pacman(b2, 'protease-k-enzyme-3', 993, 1216, '#0aa55d', 1, 1);
  arrow(b2, 'digestion-arrow-1', 805, 1216, 844.5, 1216, '#333', 3.2, 9, 6.5);
  arrow(b2, 'digestion-arrow-2', 926, 1216, 967, 1216, '#333', 3.2, 9, 6.5);
  beads(b2, 'peptide-1', [[801, 1190], [788, 1188], [777, 1180], [774, 1194], [770, 1205], [767, 1218], [753, 1214], [750, 1200], [760, 1196]], 3.2);
  beads(b2, 'peptide-2', [[891, 1168], [894, 1178], [902, 1183], [905, 1193], [902, 1203], [906, 1210]], 3.2);
  beads(b2, 'peptide-3', [[1016, 1193], [1028, 1195], [1038, 1191], [1026, 1203], [1030, 1218], [1034, 1230]], 3.2);

  /* box 3 contents */
  const b3 = el('g', 'hipore-v2-illustration', {}, root);
  curve(b3, 'fragment-green', [[1300, 1263], [1330, 1263], [1359, 1267]], LIME, 3.4);
  curve(b3, 'fragment-red', [[1359, 1267], [1386, 1260], [1408, 1267]], SRED, 3.4);
  curve(b3, 'fragment-tan', [[1408, 1267], [1436, 1272], [1477, 1265]], TAN, 3.4);
  curve(b3, 'fragment-navy', [[1477, 1265], [1511, 1260], [1546, 1266]], NAVY, 3.4);
  curve(b3, 'fragment-red-2', [[1546, 1266], [1562, 1264], [1575, 1254], [1591, 1253]], SRED, 3.4);
  line(b3, 'peptide-stem', 1427, 1254, 1427, 1268, '#222', 2);
  beads(b3, 'attached-bead', [[1427, 1254], [1427, 1255]], 3);
  pacman(b3, 'protease-k-enzyme', 1324.4, 1203, '#0aa55d', 1, 1);
  arrow(b3, 'digestion-arrow', 1413, 1194, 1453, 1194, '#333', 3.2, 9, 6.5);
  beads(b3, 'peptide', [[1380, 1165], [1388, 1170], [1402, 1175], [1388, 1182], [1378, 1190], [1372, 1203], [1358, 1198], [1352, 1188], [1360, 1183]], 3.2);
  el('polygon', 'pronase-enzyme-purple', { points: '1488,1162 1497,1159 1501,1161 1508,1157 1519,1165 1519,1180 1517,1183 1511,1168 1504,1172 1503,1182 1497,1178 1490,1172', fill: '#a07fb5', stroke: '#222', 'stroke-width': 1.2 }, b3);
  pacman(b3, 'pronase-enzyme-orange', 1562, 1195, '#e3a22c', -.88, .8);
  el('polygon', 'pronase-enzyme-blue', { points: '1500,1219 1502,1228 1510,1233 1515,1228 1512,1218 1520,1224 1527,1232 1524,1244 1510,1245 1497,1238 1494,1230', fill: '#5aaddc', stroke: '#222', 'stroke-width': 1.2 }, b3);
  [[1510.5, 1189], [1535.6, 1184], [1492, 1192], [1492, 1198], [1514.4, 1204], [1479, 1207], [1502, 1214], [1535.6, 1220], [1480, 1220], [1483, 1224]].forEach(p => {
    circle(b3, 'digested-peptide', p[0], p[1], 3.2, '#b9b5b0');
    circle(b3, 'digested-peptide-core', p[0], p[1], 1.2, '#6b6762');
  });
})();
</script>
</body>
</html>
